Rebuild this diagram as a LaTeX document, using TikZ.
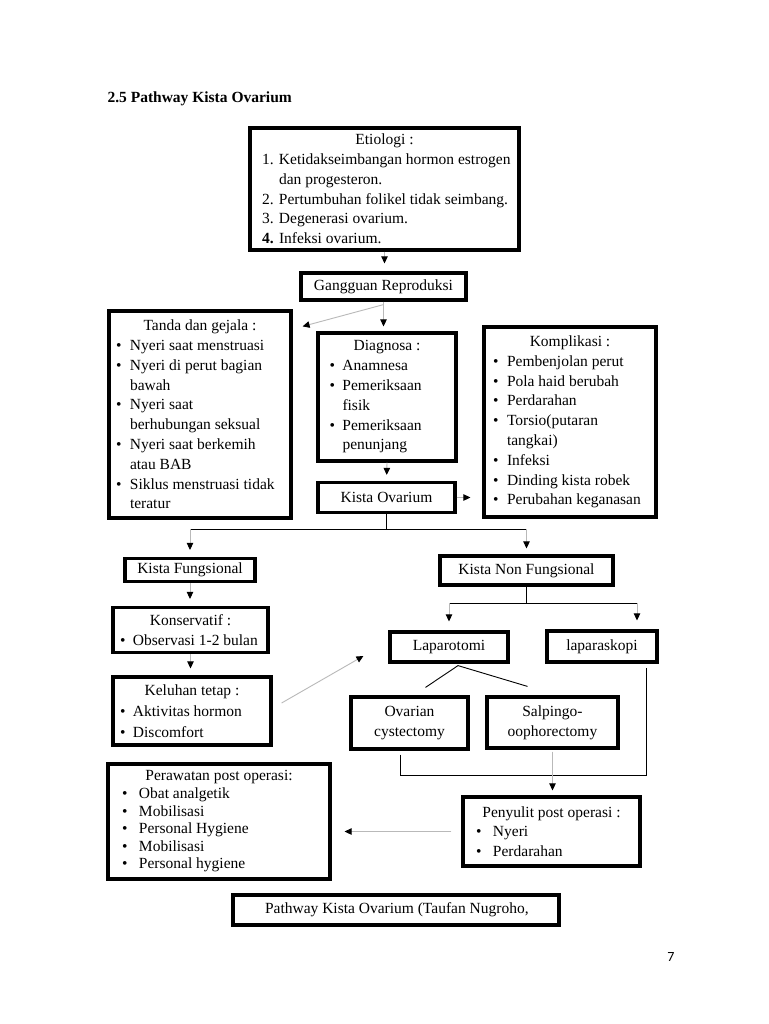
\documentclass[tikz,border=0pt]{standalone}
\usepackage{fontspec}
\setmainfont{Liberation Serif}
\newfontfamily\hlmfont{Carlito}
\usetikzlibrary{arrows.meta}

\def\lbtr{14pt}
\def\ltks{150pt}
\newcommand{\itm}[1]{\makebox[\lbtr][l]{\textbullet}\makebox[\ltks][l]{#1}}
\newcommand{\lnj}[1]{\makebox[\lbtr][l]{}\makebox[\ltks][l]{#1}}
\newcommand{\nom}[2]{\makebox[\lbtr][l]{#1}\makebox[\ltks][l]{#2}}

\begin{document}
\begin{tikzpicture} [
  x=1pt, y=-1pt,
  kotak/.style={
    draw, line width=3.2pt, inner sep=0pt, align=center,
    font=\fontsize{15.5}{19.8}\selectfont
  },
  daftar/.code 2 args={\gdef\lbtr{#1}\gdef\ltks{#2}},
  panah/.style={draw=gray!55, line width=0.9pt,
    -{Triangle[length=7pt, width=6.5pt, color=black]}, shorten >=6pt},
  garis/.style={draw=black, line width=0.9pt}
  ]
  \fill[white] (0,0) rectangle (768,1024);
  \node[anchor=base west, font=\fontsize{15.5}{19.8}\selectfont\bfseries] (judul) at (104,103) {2.5 Pathway Kista Ovarium};

  \node(etio)[kotak, minimum width=269pt, minimum height=122pt, daftar={17pt}{228pt}] at (384.5,189) {Etiologi :\\
    \nom{1.}{Ketidakseimbangan hormon estrogen}\\ \lnj{dan progesteron.}\\
    \nom{2.}{Pertumbuhan folikel tidak seimbang.}\\ \nom{3.}{Degenerasi ovarium.}\\
    \nom{\textbf{4.}}{Infeksi ovarium.}};
  \node(gangg)[kotak, minimum width=165pt, minimum height=27pt] at (383.5,286.5) {Gangguan Reproduksi};

  \node(tanda)[kotak, minimum width=182pt, minimum height=207pt, daftar={14pt}{154pt}] at (200,414.5) {Tanda dan gejala :\\
    \itm{Nyeri saat menstruasi}\\ \itm{Nyeri di perut bagian}\\ \lnj{bawah}\\
    \itm{Nyeri saat}\\ \lnj{berhubungan seksual}\\ \itm{Nyeri saat berkemih}\\
    \lnj{atau BAB}\\ \itm{Siklus menstruasi tidak}\\ \lnj{teratur}};
  \node(diag)[kotak, minimum width=138pt, minimum height=128pt, daftar={13pt}{102pt}] at (387,397) {Diagnosa :\\
    \itm{Anamnesa}\\ \itm{Pemeriksaan}\\ \lnj{fisik}\\ \itm{Pemeriksaan}\\ \lnj{penunjang}};
  \node(kista)[kotak, minimum width=137pt, minimum height=30pt] at (386.5,497.5) {Kista Ovarium};
  \node(kompl)[kotak, minimum width=172pt, minimum height=190pt, daftar={14pt}{140pt}] at (570,422) {Komplikasi :\\
    \itm{Pembenjolan perut}\\ \itm{Pola haid berubah}\\ \itm{Perdarahan}\\
    \itm{Torsio(putaran}\\ \lnj{tangkai)}\\ \itm{Infeksi}\\
    \itm{Dinding kista robek}\\ \itm{Perubahan keganasan}};

  \node(kfung)[kotak, minimum width=130pt, minimum height=23pt] at (190,570) {Kista Fungsional};
  \node(knon)[kotak, minimum width=173pt, minimum height=29pt] at (526.5,570.5) {Kista Non Fungsional};
  \node(konserv)[kotak, minimum width=155pt, minimum height=45pt, daftar={13pt}{128pt}] at (190.5,630) {Konservatif :\\
    \itm{Observasi 1-2 bulan}};
  \node(keluhan)[kotak, minimum width=158pt, minimum height=68pt, daftar={13pt}{131pt},
    font=\fontsize{15.5}{21}\selectfont] at (192,711) {Keluhan tetap :\\
    \itm{Aktivitas hormon}\\ \itm{Discomfort}};

  \node(laparo)[kotak, minimum width=118pt, minimum height=30pt] at (449,647) {Laparotomi};
  \node(laparos)[kotak, minimum width=110pt, minimum height=31pt] at (602,646.5) {laparaskopi};
  \node(ovar)[kotak, minimum width=117pt, minimum height=52pt] at (409.5,723) {Ovarian\\ cystectomy};
  \node(salp)[kotak, minimum width=131pt, minimum height=51pt] at (552.5,722.5) {Salpingo-\\ oophorectomy};

  \node(penyulit)[kotak, minimum width=177pt, minimum height=69pt, daftar={17pt}{134pt}] at (551.5,831.5) {Penyulit post operasi :\\
    \itm{Nyeri}\\ \itm{Perdarahan}};
  \node(rawat)[kotak, minimum width=222pt, minimum height=115pt, daftar={17pt}{177pt},
    font=\fontsize{15.5}{17.6}\selectfont] at (219,821.5) {Perawatan post operasi:\\
    \itm{Obat analgetik}\\ \itm{Mobilisasi}\\ \itm{Personal Hygiene}\\
    \itm{Mobilisasi}\\ \itm{Personal hygiene}};
  \node(sumber)[kotak, minimum width=326pt, minimum height=30pt] at (396,910) {\makebox[262pt][l]{Pathway Kista Ovarium (Taufan Nugroho,}};

  \node(hlm)[anchor=base, font=\hlmfont\fontsize{14}{16}\selectfont] at (671,961) {7};

  \coordinate (ttanda) at ([xshift=10pt,yshift=-17pt]tanda.north east);
  \coordinate (cab1) at (385,529);
  \coordinate (cab2) at (527,603);
  \coordinate (ujung) at ([xshift=35pt]laparos.north);
  \coordinate (puncak) at ([xshift=9pt,yshift=-2pt]laparo.south);
  \coordinate (cab3) at (400,775);

  \begin{scope}
    \draw[panah, shorten >=8pt] (etio.south) -- (etio.south |- gangg.north);
    \draw[panah, shorten >=5pt] (gangg.south) -- (gangg.south |- diag.north);
    \draw[panah, shorten >=0pt] ([yshift=-3pt]gangg.south) -- (ttanda);
    \draw[panah] (diag.south) -- (kista.north);
    \draw[panah, shorten >=12pt] (kista.east) -- (kista.east -| kompl.west);

    \draw[garis] (kista.south) -- (kista.south |- cab1);
    \draw[garis] (kfung.north |- cab1) -- (knon.north |- cab1);
    \draw[panah, shorten >=7pt] (kfung.north |- cab1) -- (kfung.north);
    \draw[panah] (knon.north |- cab1) -- (knon.north);

    \draw[panah, shorten >=7pt] (kfung.south) -- (kfung.south |- konserv.north);
    \draw[panah, shorten >=7pt] (konserv.south) -- (konserv.south |- keluhan.north);
    \draw[panah, shorten >=0pt] ([xshift=9pt,yshift=8pt]keluhan.east) -- ([xshift=-25pt,yshift=-9pt]laparo.west);

    \draw[garis] (knon.south) -- (knon.south |- cab2);
    \draw[garis] (laparo.north |- cab2) -- (ujung |- cab2);
    \draw[panah, shorten >=9pt] (laparo.north |- cab2) -- (laparo.north);
    \draw[panah, shorten >=9pt] (ujung |- cab2) -- (ujung);

    \draw[garis] (puncak) -- ([xshift=16pt,yshift=8pt]ovar.north);
    \draw[garis] (puncak) -- ([xshift=-25pt,yshift=9pt]salp.north);
    \draw[garis] ([xshift=-9.5pt,yshift=-4pt]ovar.south) -- (cab3) -| ([xshift=44pt,yshift=-4pt]laparos.south);

    \draw[panah, shorten <=2pt, shorten >=5pt] (salp.south) -- (salp.south |- penyulit.north);
    \draw[panah, shorten <=10pt, shorten >=13pt] (penyulit.west) -- (penyulit.west -| rawat.east);
  \end{scope}
\end{tikzpicture}
\end{document}
